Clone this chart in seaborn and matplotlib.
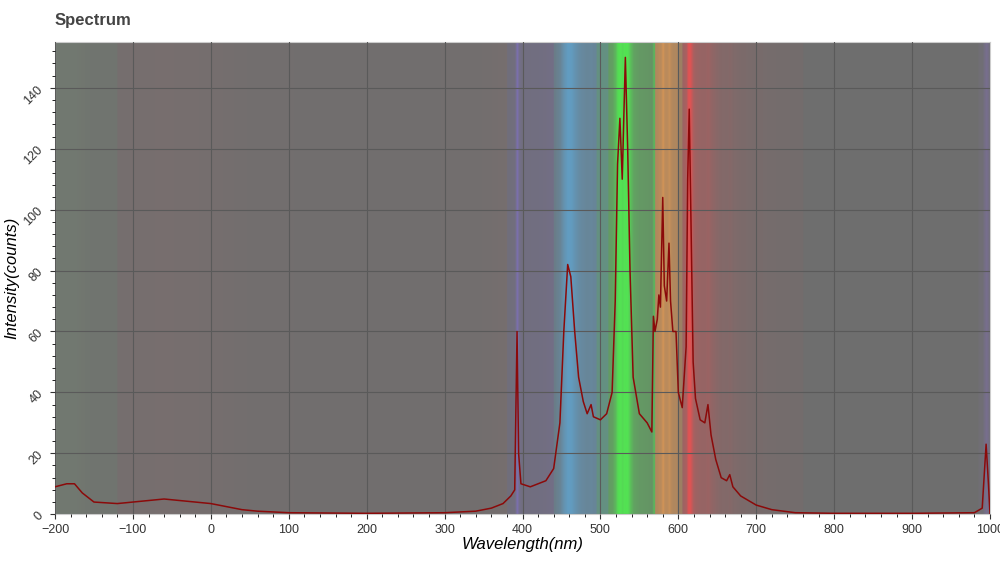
import numpy as np
import matplotlib
matplotlib.use("Agg")
import matplotlib.pyplot as plt
import seaborn as sns
import pandas as pd
from matplotlib.ticker import MultipleLocator

wavelength = [-200,-185,-175,-165,-150,-120,-100,-80,-60,-40,-20,0,20,40,60,100,200,300,340,360,375,385,390,393,395,398,410,420,430,440,448,453,458,462,467,472,478,483,488,491,500,508,515,519,522,525,528,532,535,538,542,550,560,566,568,570,573,575,577,580,582,585,588,590,593,597,600,605,610,612,614,616,619,622,628,634,638,642,648,655,662,666,670,680,700,720,750,800,900,980,990,995,998,1000]
intensity = [9,10,10,7,4,3.5,4,4.5,5,4.5,4,3.5,2.5,1.5,1,0.5,0.3,0.5,1,2,3.5,6,8,60,20,10,9,10,11,15,30,60,82,78,60,45,37,33,36,32,31,33,40,70,115,130,110,150,120,80,45,33,30,27,65,60,64,72,68,104,75,70,89,70,60,60,40,35,55,110,133,100,50,38,31,30,36,26,18,12,11,13,9,6,3,1.5,0.5,0.3,0.3,0.5,2,23,10,0]
df = pd.DataFrame({"Wavelength": wavelength, "Intensity": intensity})

def wl_rgb(w):
    if w < 380: return (0.55, 0.75, 0.5) if w < -120 else (0.85, 0.45, 0.45)
    if w < 440: return (0.55, 0.45, 1.0)
    if w < 495: return (0.35, 0.75, 1.0)
    if w < 510: return (0.3, 0.9, 0.7)
    if w < 570: return (0.3, 1.0, 0.3)
    if w < 605: return (1.0, 0.65, 0.3)
    if w < 760: return (1.0, 0.3, 0.3)
    if w < 985: return (0.45, 0.45, 0.45)
    return (0.6, 0.45, 1.0)

plt.rcParams['font.family'] = ['Liberation Sans', 'DejaVu Sans']
fig = plt.figure(figsize=(10, 5.62), dpi=100)
ax = fig.add_axes([0.055, 0.085, 0.935, 0.84])
ax.set_facecolor("#6e6e6e")
xs = np.linspace(-200, 1000, 1201)
ii = np.interp(xs, wavelength, intensity)
img = np.zeros((1, len(xs), 4))
for k, (x, v) in enumerate(zip(xs, ii)):
    img[0, k, :3] = wl_rgb(x)
    img[0, k, 3] = min(0.8, 0.03 + 0.9 * (v / 150) ** 0.8)
ax.imshow(img, extent=[-200, 1000, 0, 155], aspect="auto", zorder=0, interpolation="bilinear")
sns.lineplot(data=df, x="Wavelength", y="Intensity", ax=ax, color="#8b0a0a", linewidth=1.1, zorder=3)
ax.set_xlim(-200, 1000); ax.set_ylim(0, 155)
ax.xaxis.set_major_locator(MultipleLocator(100)); ax.xaxis.set_minor_locator(MultipleLocator(20))
ax.yaxis.set_major_locator(MultipleLocator(20)); ax.yaxis.set_minor_locator(MultipleLocator(4))
ax.grid(True, which="major", color="#5a5a5a", linewidth=0.8, zorder=1)
ax.set_axisbelow(False)
for s in ax.spines.values(): s.set_color("#cccccc")
ax.tick_params(axis="y", labelrotation=45, labelsize=9, colors="#333333")
ax.tick_params(axis="x", labelsize=9, colors="#333333")
ax.set_xlabel("Wavelength(nm)", fontsize=12, style="italic", labelpad=1)
ax.set_ylabel("Intensity(counts)", fontsize=12, style="italic", labelpad=2)
fig.text(0.055, 0.955, "Spectrum", fontsize=12, fontweight="bold", color="#444444")
fig.savefig("out.png", dpi=100)
